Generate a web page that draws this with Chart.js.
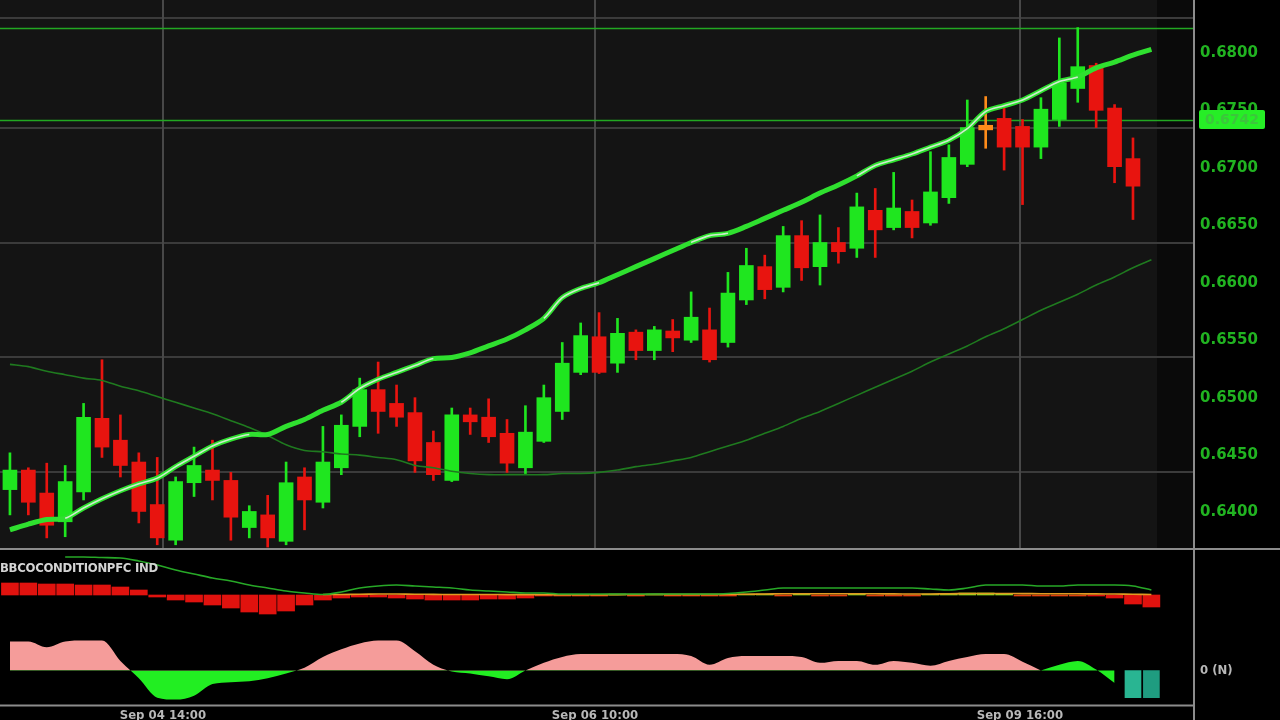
<!DOCTYPE html>
<html><head><meta charset="utf-8">
<script src="https://cdn.jsdelivr.net/npm/chart.js@4.4.1/dist/chart.umd.min.js"></script>
<style>
html,body{margin:0;padding:0;background:#000;width:1280px;height:720px;overflow:hidden;}
canvas{position:absolute;left:0;display:block;}
#cMain{top:0;}
#cOsc{top:550px;}
#cHist{top:628px;}
#indLabel{position:absolute;left:0;top:560px;color:#d4d4d4;font:bold 13px "DejaVu Sans Condensed","DejaVu Sans",sans-serif;letter-spacing:-0.3px;white-space:nowrap;}
</style></head><body>
<canvas id="cMain" width="1280" height="550"></canvas>
<canvas id="cOsc" width="1280" height="78"></canvas>
<canvas id="cHist" width="1280" height="98"></canvas>
<div id="indLabel">BBCOCONDITIONPFC IND</div>
<script>
// ---------- DATA ----------
const opens  = [0.6420,0.6437,0.6417,0.6392,0.6418,0.6482,0.6463,0.6444,0.6407,0.6376,0.6426,0.6437,0.6428,0.6387,0.6398,0.6375,0.6431,0.6409,0.6439,0.6475,0.6507,0.6495,0.6487,0.6461,0.6428,0.6485,0.6483,0.6469,0.6439,0.6462,0.6488,0.6522,0.6553,0.6530,0.6557,0.6541,0.6558,0.6550,0.6559,0.6548,0.6585,0.6614,0.6596,0.6641,0.6614,0.6635,0.6630,0.6663,0.6648,0.6662,0.6652,0.6674,0.6703,0.6737,0.6743,0.6736,0.6718,0.6742,0.6769,0.6789,0.6752,0.6708];
const highs  = [0.6452,0.6439,0.6443,0.6441,0.6495,0.6533,0.6485,0.6452,0.6448,0.6431,0.6457,0.6463,0.6435,0.6406,0.6415,0.6444,0.6439,0.6475,0.6485,0.6517,0.6531,0.6511,0.6500,0.6471,0.6491,0.6491,0.6499,0.6481,0.6493,0.6511,0.6548,0.6565,0.6574,0.6569,0.6559,0.6562,0.6568,0.6592,0.6578,0.6609,0.6630,0.6624,0.6649,0.6654,0.6659,0.6648,0.6678,0.6682,0.6696,0.6672,0.6714,0.6720,0.6759,0.6762,0.6752,0.6742,0.6761,0.6813,0.6822,0.6791,0.6755,0.6726];
const lows   = [0.6398,0.6398,0.6378,0.6379,0.6411,0.6448,0.6431,0.6391,0.6372,0.6372,0.6414,0.6411,0.6376,0.6378,0.6370,0.6372,0.6385,0.6404,0.6433,0.6466,0.6469,0.6475,0.6435,0.6428,0.6427,0.6468,0.6461,0.6435,0.6433,0.6461,0.6481,0.6520,0.6521,0.6522,0.6533,0.6533,0.6540,0.6548,0.6531,0.6544,0.6581,0.6586,0.6592,0.6602,0.6598,0.6617,0.6622,0.6622,0.6646,0.6639,0.6650,0.6669,0.6701,0.6717,0.6698,0.6668,0.6708,0.6736,0.6757,0.6735,0.6687,0.6655];
const closes = [0.6437,0.6409,0.6389,0.6427,0.6483,0.6457,0.6441,0.6401,0.6378,0.6427,0.6441,0.6428,0.6396,0.6401,0.6378,0.6426,0.6411,0.6444,0.6476,0.6507,0.6488,0.6483,0.6445,0.6433,0.6485,0.6479,0.6466,0.6443,0.6470,0.6500,0.6530,0.6554,0.6522,0.6556,0.6541,0.6559,0.6552,0.6570,0.6533,0.6591,0.6615,0.6594,0.6641,0.6613,0.6635,0.6627,0.6666,0.6646,0.6665,0.6648,0.6679,0.6709,0.6735,0.6733,0.6718,0.6718,0.6751,0.6774,0.6788,0.6750,0.6701,0.6684];

const emaFast = [0.6385,0.6390,0.6394,0.6395,0.6404,0.6412,0.6419,0.6425,0.6430,0.6440,0.6449,0.6458,0.6464,0.6468,0.6468,0.6475,0.6481,0.6489,0.6496,0.6508,0.6516,0.6522,0.6528,0.6534,0.6535,0.6539,0.6545,0.6551,0.6559,0.6569,0.6587,0.6595,0.6600,0.6607,0.6614,0.6621,0.6628,0.6635,0.6641,0.6643,0.6649,0.6656,0.6663,0.6670,0.6678,0.6685,0.6693,0.6702,0.6707,0.6712,0.6718,0.6724,0.6734,0.6749,0.6754,0.6759,0.6767,0.6775,0.6779,0.6787,0.6792,0.6798,0.6803];
const emaSlow = [0.6529,0.6527,0.6523,0.6520,0.6517,0.6515,0.6510,0.6506,0.6501,0.6496,0.6491,0.6486,0.6480,0.6474,0.6467,0.6459,0.6454,0.6453,0.6451,0.6450,0.6448,0.6446,0.6441,0.6439,0.6436,0.6434,0.6433,0.6433,0.6433,0.6433,0.6434,0.6434,0.6435,0.6437,0.6440,0.6442,0.6445,0.6448,0.6453,0.6458,0.6463,0.6469,0.6475,0.6482,0.6488,0.6495,0.6502,0.6509,0.6516,0.6523,0.6531,0.6538,0.6545,0.6553,0.6560,0.6568,0.6576,0.6583,0.6590,0.6598,0.6605,0.6613,0.6620];

const priceTickValues = [0.6850,0.6800,0.6750,0.6700,0.6650,0.6600,0.6550,0.6500,0.6450,0.6400];
const priceTickLabels = ['0.6850','0.6800','0.6750','0.6700','0.6650','0.6600','0.6550','0.6500','0.6450','0.6400'];
const gridPriceValues = [0.6830,0.6735,0.6635,0.6535,0.6435];
const levelPrices = [0.6822,0.6742];
const lastPrice = 0.6742;
const lastPriceLabel = '0.6742';

const timeTickIdx = [8.31,31.78,54.86];
const timeTickLabels = ['Sep 04 14:00','Sep 06 10:00','Sep 09 16:00'];

const oscLine = [null,null,null,38,38,37.5,37,34,30,25,21,17,14,10,7,4,2,0.5,3,7,9,10,9,8,7,5,4,3,2,2,1,1,1,1,1,1,1,1,1,1.5,3,5,7,7,7,7,7,7,7,7,6,5,7,10,10,10,9,9,10,10,10,9,5];
const oscSignal = [null,null,null,null,null,null,null,null,null,null,null,null,null,null,null,null,null,0.5,0.5,0.8,1,1,0.8,0.6,0.5,0.5,0.5,0.4,0.4,0.3,0.3,0.3,0.3,0.4,0.5,0.6,0.6,0.6,0.6,0.7,0.8,1,1.2,1.2,1.2,1.2,1.2,1.2,1.1,1,1,1.2,1.5,1.5,1.5,1.4,1.3,1.2,1.2,1.1,1,0.8,0.5];
const oscHist = [12,12,11,11,10,10,8,5,-2,-5,-7,-10,-13,-17,-19,-16,-10,-5,-3,-2,-2,-3,-4,-5,-5,-5,-4,-4,-3,-1,-1,-1,-1,1,-1,1,-1,-1,-1,-1,1,1,-1,1,-1,-1,1,-1,-1,-1,1,1,2,2,1,-1,-1,-1,-1,-1,-3,-9,-12];
const momentum = [30,30,24,30,31,31,10,-8,-28,-30,-26,-14,-12,-11,-8,-3,3,14,22,28,31,31,20,6,-1,-3,-6,-9,0,8,14,17,17,17,17,17,17,15,6,13,15,15,15,14,8,10,10,6,10,8,5,10,14,17,17,9,0,6,10,1,-13,-28,-28];

// ---------- STYLE ----------
const GREEN = '#1fe61f', RED = '#e8140f', ORANGE = '#ff8c1a';
const X_MIN = -0.54, X_MAX = 64.26, AXIS_W = 87;
const FONT = '"DejaVu Sans", sans-serif';
Chart.defaults.font.family = FONT;

const candleColors = opens.map((o, i) => i === 53 ? ORANGE : (closes[i] >= o ? GREEN : RED));
const whiteRanges = [[3,13],[18,23],[29,32],[37,39],[46,58]];
const inWhite = i => whiteRanges.some(r => i >= r[0] && i < r[1]);

const bodyData = opens.map((o, i) => ({x: i, y: [o, closes[i]]}));
const wickData = opens.map((o, i) => ({x: i, y: [lows[i], highs[i]]}));
const pts = arr => arr.map((v, i) => ({x: i, y: v}));

const fixWidth = s => { s.width = AXIS_W; s.paddingTop = 0; s.paddingBottom = 0; };
const xHidden = {type: 'linear', min: X_MIN, max: X_MAX, offset: false, grace: 0, display: false};

// ---------- MAIN CHART ----------
const mainDeco = {
  id: 'mainDeco',
  beforeDraw(chart) {
    const {ctx, chartArea: a, width, height} = chart;
    ctx.save();
    ctx.fillStyle = '#000'; ctx.fillRect(0, 0, width, height);
    ctx.fillStyle = '#0a0a0a'; ctx.fillRect(a.left, a.top, a.right - a.left, a.bottom - a.top);
    ctx.fillStyle = '#141414'; ctx.fillRect(a.left, a.top, a.right - 36 - a.left, a.bottom - a.top);
    ctx.restore();
  },
  beforeDatasetsDraw(chart) {
    const {ctx, chartArea: a, scales: {x, y}} = chart;
    ctx.save();
    ctx.lineWidth = 2; ctx.strokeStyle = '#3b3b3b';
    gridPriceValues.forEach(v => { const p = Math.round(y.getPixelForValue(v)); ctx.beginPath(); ctx.moveTo(a.left, p); ctx.lineTo(a.right, p); ctx.stroke(); });
    ctx.strokeStyle = '#484848';
    timeTickIdx.forEach(v => { const p = Math.round(x.getPixelForValue(v)); ctx.beginPath(); ctx.moveTo(p, a.top); ctx.lineTo(p, a.bottom); ctx.stroke(); });
    ctx.lineWidth = 1.5; ctx.strokeStyle = '#22a822';
    levelPrices.forEach(v => { const p = Math.round(y.getPixelForValue(v)) + 0.5; ctx.beginPath(); ctx.moveTo(a.left, p); ctx.lineTo(a.right, p); ctx.stroke(); });
    ctx.restore();
  },
  afterDraw(chart) {
    const {ctx, chartArea: a, scales: {y}, width} = chart;
    ctx.save();
    const py = y.getPixelForValue(lastPrice);
    ctx.fillStyle = '#26ee26';
    ctx.beginPath(); ctx.roundRect(a.right + 6, py - 9.5, 66, 19, 2); ctx.fill();
    ctx.fillStyle = '#3cc63c'; ctx.font = 'bold 14px ' + FONT; ctx.textBaseline = 'middle';
    ctx.fillText(lastPriceLabel, a.right + 12, py + 1);
    ctx.strokeStyle = '#8c8c8c'; ctx.lineWidth = 2;
    ctx.beginPath(); ctx.moveTo(a.right + 1, 0); ctx.lineTo(a.right + 1, 550); ctx.stroke();
    ctx.beginPath(); ctx.moveTo(0, 549); ctx.lineTo(width, 549); ctx.stroke();
    ctx.restore();
  }
};

new Chart(document.getElementById('cMain'), {
  type: 'bar',
  data: {
    datasets: [
      {type: 'line', label: 'EMA fast hi', data: pts(emaFast), borderWidth: 1.6, pointRadius: 0, tension: 0.3, order: 0,
       borderColor: 'rgba(225,235,225,0.9)',
       segment: {borderColor: c => inWhite(c.p0DataIndex) ? 'rgba(225,235,225,0.9)' : 'rgba(0,0,0,0)'}},
      {type: 'line', label: 'EMA fast', data: pts(emaFast), borderColor: '#2fe02f', borderWidth: 5, pointRadius: 0, tension: 0.3, order: 1},
      {type: 'line', label: 'EMA slow', data: pts(emaSlow), borderColor: '#1f7a1f', borderWidth: 1.6, pointRadius: 0, tension: 0.3, order: 2},
      {label: 'Body', data: bodyData, backgroundColor: candleColors, barThickness: 14, grouped: false, order: 3, borderSkipped: false},
      {label: 'Wick', data: wickData, backgroundColor: candleColors, barThickness: 2, grouped: false, order: 4, borderSkipped: false}
    ]
  },
  options: {
    responsive: false, animation: false,
    layout: {padding: {top: 0, bottom: 2, left: 0, right: 0}},
    plugins: {legend: {display: false}, tooltip: {enabled: false}},
    scales: {
      x: xHidden,
      y: {type: 'linear', position: 'right', min: 0.63692, max: 0.68460,
          grid: {display: false, drawTicks: false}, border: {display: false},
          afterBuildTicks: s => { s.ticks = priceTickValues.map(v => ({value: v})); },
          afterFit: fixWidth,
          ticks: {color: '#21b321', font: {family: FONT, weight: 'bold', size: 15}, padding: 7, autoSkip: false,
                  callback: (v, i) => priceTickLabels[i]}}
    }
  },
  plugins: [mainDeco]
});

// ---------- OSCILLATOR PANEL ----------
const panelDeco = (bottomBorder) => ({
  id: 'panelDeco',
  beforeDraw(chart) {
    const {ctx, width, height} = chart;
    ctx.save(); ctx.fillStyle = '#000'; ctx.fillRect(0, 0, width, height); ctx.restore();
  },
  afterDraw(chart) {
    const {ctx, chartArea: a, height} = chart;
    ctx.save(); ctx.strokeStyle = '#8c8c8c'; ctx.lineWidth = 2;
    ctx.beginPath(); ctx.moveTo(a.right + 1, 0); ctx.lineTo(a.right + 1, height); ctx.stroke();
    if (bottomBorder) { ctx.beginPath(); ctx.moveTo(0, a.bottom + 1); ctx.lineTo(a.right + 1, a.bottom + 1); ctx.stroke(); }
    ctx.restore();
  }
});

const oscColors = oscHist.map((v, i) => i < 30 || i > 58 ? '#e0120e' : (v > 0 ? '#8fd81e' : '#e2400e'));

new Chart(document.getElementById('cOsc'), {
  type: 'bar',
  data: {
    datasets: [
      {type: 'line', label: 'Osc', data: pts(oscLine), borderColor: '#27a827', borderWidth: 1.6, pointRadius: 0, tension: 0.4, cubicInterpolationMode: 'monotone', order: 0},
      {type: 'line', label: 'Signal', data: pts(oscSignal), borderColor: '#e09a22', borderWidth: 1.6, pointRadius: 0, tension: 0.3, order: 1},
      {label: 'Hist', data: pts(oscHist), backgroundColor: oscColors, barThickness: 17, order: 2}
    ]
  },
  options: {
    responsive: false, animation: false,
    layout: {padding: {top: 2, bottom: 0, left: 0, right: 0}},
    plugins: {legend: {display: false}, tooltip: {enabled: false}},
    scales: {
      x: xHidden,
      y: {type: 'linear', position: 'right', min: -33, max: 43, grid: {display: false, drawTicks: false}, border: {display: false},
          ticks: {display: false}, afterFit: fixWidth}
    }
  },
  plugins: [panelDeco(false)]
});

// ---------- MOMENTUM PANEL ----------
const mainPart = momentum.map((v, i) => ({x: i, y: v})).filter(p => p.x <= 56);
const tailPart = momentum.map((v, i) => ({x: i, y: v})).filter(p => p.x >= 56 && p.x <= 60);
const barPart  = momentum.map((v, i) => ({x: i, y: v})).filter(p => p.x >= 61);

new Chart(document.getElementById('cHist'), {
  type: 'bar',
  data: {
    datasets: [
      {type: 'line', label: 'Momentum', data: mainPart, borderWidth: 0, pointRadius: 0, tension: 0.35, cubicInterpolationMode: 'monotone',
       fill: {target: 'origin', above: '#f59c9a', below: '#22ee22'}, backgroundColor: '#f59c9a', order: 0},
      {type: 'line', label: 'Momentum tail', data: tailPart, borderWidth: 0, pointRadius: 0, tension: 0.35, cubicInterpolationMode: 'monotone',
       fill: {target: 'origin', above: '#22ee22', below: '#22ee22'}, backgroundColor: '#22ee22', order: 1},
      {label: 'Momentum bars', data: barPart, backgroundColor: ['#29b592', '#1f9c80'], barThickness: 16, order: 2}
    ]
  },
  options: {
    responsive: false, animation: false,
    layout: {padding: {top: 0, bottom: 0, left: 0, right: 0}},
    plugins: {legend: {display: false}, tooltip: {enabled: false}},
    scales: {
      x: {type: 'linear', min: X_MIN, max: X_MAX, offset: false, grace: 0, grid: {display: false, drawTicks: false}, border: {display: false},
          afterBuildTicks: s => { s.ticks = timeTickIdx.map(v => ({value: v})); },
          ticks: {color: '#b8b8b8', font: {family: '"DejaVu Sans Condensed", "DejaVu Sans", sans-serif', weight: 'bold', size: 13}, padding: 3,
                  autoSkip: false, maxRotation: 0, callback: (v, i) => timeTickLabels[i]}},
      y: {type: 'linear', position: 'right', min: -35, max: 44, grid: {display: false, drawTicks: false}, border: {display: false},
          afterBuildTicks: s => { s.ticks = [{value: 0}]; },
          afterFit: fixWidth,
          ticks: {color: '#b8b8b8', font: {family: '"DejaVu Sans Condensed", "DejaVu Sans", sans-serif', weight: 'bold', size: 13}, padding: 7,
                  callback: () => '0 (N)'}}
    }
  },
  plugins: [panelDeco(true)]
});
</script>
</body></html>
